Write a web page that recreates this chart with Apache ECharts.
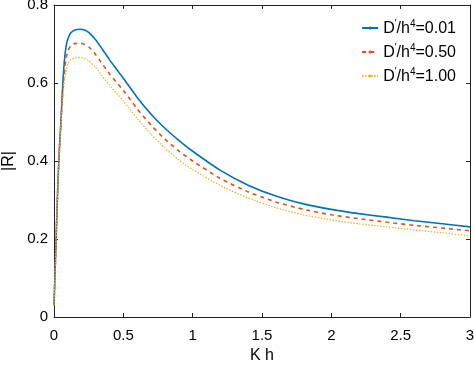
<!DOCTYPE html>
<html><head><meta charset="utf-8">
<script src="https://cdn.jsdelivr.net/npm/echarts@6/dist/echarts.min.js"></script>
<style>html,body{margin:0;padding:0;background:#fff}#c{width:474px;height:367px}</style>
</head><body><div id="c"></div>
<script>
var kh   = [0,    0.01, 0.02,  0.03, 0.04, 0.05,  0.06,  0.07,  0.08,  0.09,  0.1,   0.12,  0.15,  0.19,  0.22,  0.25,  0.3,   0.35,  0.4,   0.45,  0.5,   0.6,   0.7,   0.8,   0.9,   1.0,   1.2,   1.4,   1.6,   1.8,   2.0,   2.2,   2.4,   2.6,   2.8,   3.0];
var r001 = [0.03, 0.14, 0.255, 0.36, 0.44, 0.50,  0.575, 0.635, 0.675, 0.699, 0.713, 0.728, 0.736, 0.738, 0.736, 0.730, 0.711, 0.686, 0.660, 0.636, 0.612, 0.563, 0.520, 0.484, 0.453, 0.425, 0.376, 0.338, 0.310, 0.290, 0.276, 0.265, 0.256, 0.247, 0.239, 0.231];
var r050 = [0.03, 0.14, 0.255, 0.36, 0.435,0.495, 0.56,  0.61,  0.645, 0.668, 0.682, 0.695, 0.701, 0.702, 0.699, 0.693, 0.673, 0.648, 0.624, 0.602, 0.581, 0.534, 0.492, 0.456, 0.426, 0.400, 0.355, 0.321, 0.295, 0.276, 0.262, 0.252, 0.243, 0.235, 0.228, 0.221];
var r100 = [0.03, 0.14, 0.255, 0.36, 0.43, 0.49,  0.545, 0.588, 0.617, 0.636, 0.648, 0.659, 0.664, 0.665, 0.663, 0.657, 0.640, 0.617, 0.595, 0.574, 0.554, 0.509, 0.469, 0.433, 0.403, 0.378, 0.337, 0.305, 0.280, 0.262, 0.249, 0.239, 0.231, 0.223, 0.216, 0.208];
var names = ["D'/h4=0.01", "D'/h4=0.50", "D'/h4=1.00"];
var legendVals = ["0.01", "0.50", "1.00"];
var xTicks = ["0", "0.5", "1", "1.5", "2", "2.5", "3"];
var yTicks = ["0", "0.2", "0.4", "0.6", "0.8"];

function pairs(ys){ return kh.map(function(x,i){return [x, ys[i]];}); }
var font = 'Liberation Sans, Arial, sans-serif';
var axisCol = '#262626';
var chart = echarts.init(document.getElementById('c'));
function xAx(pos, show){
  return {type:'value', position:pos, min:0, max:3, interval:0.5,
    axisLine:{show:true, onZero:false, lineStyle:{color:axisCol, width:1}},
    axisTick:{show:true, inside:true, length:4, lineStyle:{color:axisCol}},
    axisLabel:{show:show, color:'#000', fontSize:15, fontFamily:font, margin:11,
      formatter:function(v){ var i=Math.round(v/0.5); return xTicks[i]; }},
    splitLine:{show:false},
    name: show ? 'K h' : '', nameLocation:'middle', nameGap:30,
    nameTextStyle:{color:'#000', fontSize:16, fontFamily:font}};
}
function yAx(pos, show){
  return {type:'value', position:pos, min:0, max:0.8, interval:0.2,
    axisLine:{show:true, onZero:false, lineStyle:{color:axisCol, width:1}},
    axisTick:{show:true, inside:true, length:4, lineStyle:{color:axisCol}},
    axisLabel:{show:show, color:'#000', fontSize:15, fontFamily:font, margin:6,
      formatter:function(v){ var i=Math.round(v/0.2); return yTicks[i]; }},
    splitLine:{show:false},
    name: show ? '|R|' : '', nameLocation:'middle', nameGap:30,
    nameTextStyle:{color:'#000', fontSize:16, fontFamily:font}};
}
chart.setOption({
  animation:false,
  grid:{left:54, right:4, top:5, bottom:50, containLabel:false, outerBoundsMode:'none'},
  xAxis:[xAx('bottom', true), xAx('top', false)],
  yAxis:[yAx('left', true), yAx('right', false)],
  legend:{
    orient:'vertical', right:13, top:14, itemGap:6, itemWidth:16, itemHeight:4,
    data:names,
    formatter:function(n){ var i=names.indexOf(n); return '{n|D}{s|\'}{n|/h}{s|4}{n|='+legendVals[i]+'}'; },
    textStyle:{color:'#000', fontFamily:font, fontSize:16,
      rich:{n:{fontSize:16, fontFamily:font, color:'#000', verticalAlign:'bottom'},
            s:{fontSize:10, fontFamily:font, color:'#000', verticalAlign:'top', padding:[0,0,8,0]}}}
  },
  series:[
    {name:names[0], type:'line', data:pairs(r001), smooth:0.2, symbol:'none',
      lineStyle:{color:'#0072BD', width:1.6, type:'solid'}, itemStyle:{color:'#0072BD'}},
    {name:names[1], type:'line', data:pairs(r050), smooth:0.2, symbol:'none',
      lineStyle:{color:'#D95319', width:1.6, type:[4,4]}, itemStyle:{color:'#D95319'}},
    {name:names[2], type:'line', data:pairs(r100), smooth:0.2, symbol:'none',
      lineStyle:{color:'#EDB120', width:1.2, type:[1.5,1.5]}, itemStyle:{color:'#EDB120'}}
  ]
});
</script></body></html>
